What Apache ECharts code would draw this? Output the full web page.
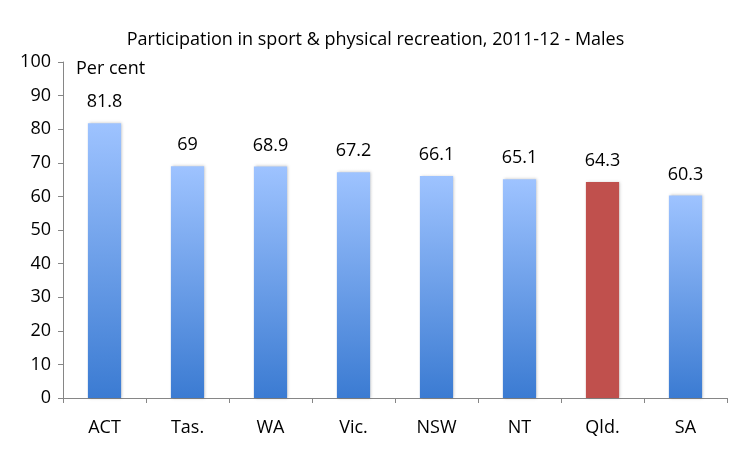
<!DOCTYPE html>
<html>
<head>
<meta charset="utf-8">
<script src="https://cdn.jsdelivr.net/npm/echarts@6/dist/echarts.min.js"></script>
<style>
html,body{margin:0;padding:0;background:#fff;}
#main{width:751px;height:451px;}
</style>
</head>
<body>
<div id="main"></div>
<script>
//图表容器
var chart = echarts.init(document.getElementById('main'));

//州/领地名称
var states = ['ACT', 'Tas.', 'WA', 'Vic.', 'NSW', 'NT', 'Qld.', 'SA'];
//参与率 (%)
var rates = [81.8, 69, 68.9, 67.2, 66.1, 65.1, 64.3, 60.3];
//突出显示的州
var highlight = 'Qld.';

var blueFill = new echarts.graphic.LinearGradient(0, 0, 0, 1, [
    {offset: 0, color: '#9EC3FF'},
    {offset: 1, color: '#3B7BD2'}
]);

var barData = [];
for (var i = 0; i < rates.length; i++) {
    barData.push({
        value: rates[i],
        itemStyle: {
            color: states[i] === highlight ? '#C0504D' : blueFill
        }
    });
}

var font = '"Open Sans", "Noto Sans", sans-serif';

var option = {
    backgroundColor: '#fff',
    animation: false,
    title: {
        text: 'Participation in sport & physical recreation, 2011-12 - Males',
        left: 'center',
        top: 26,
        textStyle: {
            color: '#000',
            fontSize: 18,
            fontWeight: 'normal',
            fontFamily: font
        }
    },
    grid: {
        left: 63,
        right: 24,
        top: 62,
        bottom: 53
    },
    graphic: [{
        type: 'text',
        left: 76,
        top: 60,
        style: {
            text: 'Per cent',
            fill: '#000',
            fontSize: 18,
            fontFamily: font
        }
    }],
    xAxis: {
        type: 'category',
        data: states,
        axisLine: {lineStyle: {color: '#868686'}},
        axisTick: {show: true, alignWithLabel: false, length: 5, lineStyle: {color: '#868686'}},
        axisLabel: {color: '#000', fontSize: 18, margin: 21, fontFamily: font}
    },
    yAxis: {
        type: 'value',
        min: 0,
        max: 100,
        interval: 10,
        axisLine: {show: true, lineStyle: {color: '#868686'}},
        axisTick: {show: true, length: 5, lineStyle: {color: '#868686'}},
        splitLine: {show: false},
        axisLabel: {color: '#000', fontSize: 18, margin: 12, fontFamily: font}
    },
    series: [{
        type: 'bar',
        data: barData,
        barWidth: '40%',
        itemStyle: {
            shadowColor: 'rgba(0,0,0,0.25)',
            shadowBlur: 3,
            shadowOffsetX: 1
        },
        label: {
            show: true,
            position: 'top',
            distance: 12,
            color: '#000',
            fontSize: 18,
            fontFamily: font
        }
    }]
};

chart.setOption(option);
</script>
</body>
</html>
